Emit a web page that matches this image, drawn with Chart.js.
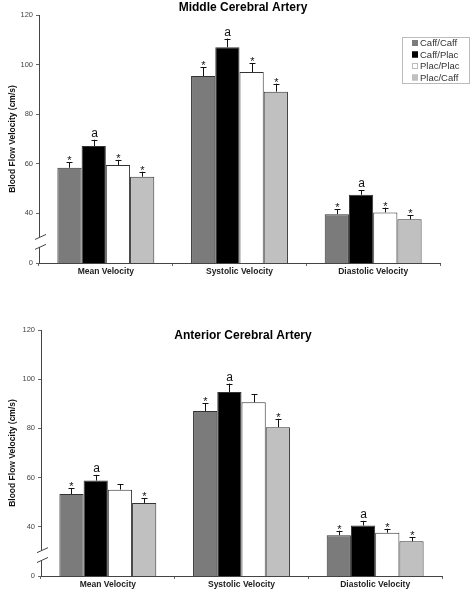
<!DOCTYPE html>
<html>
<head>
<meta charset="utf-8">
<script src="https://cdn.jsdelivr.net/npm/chart.js@4"></script>
<style>
  html, body { margin: 0; padding: 0; background: #fff; }
  .panel { position: absolute; left: 0; width: 474px; }
  #top { top: 0; height: 292px; }
  #bottom { top: 300px; height: 294px; }
</style>
</head>
<body>
<div class="panel" id="top"><canvas id="mca" width="474" height="292"></canvas></div>
<div class="panel" id="bottom"><canvas id="aca" width="474" height="294"></canvas></div>
<script>
const categories = ['Mean Velocity', 'Systolic Velocity', 'Diastolic Velocity'];
const groups = ['Caff/Caff', 'Caff/Plac', 'Plac/Plac', 'Plac/Caff'];
const yTicks = [20, 40, 60, 80, 100, 120]; // 20 is shown as "0" below the break

// Middle cerebral artery
const mcaCaffCaff = [58.4, 95.4, 39.7];
const mcaCaffPlac = [67.2, 107.0, 47.5];
const mcaPlacPlac = [59.5, 97.0, 40.4];
const mcaPlacCaff = [54.8, 89.1, 37.6];
const mcaErrCaffCaff = [2.3, 3.5, 1.9];
const mcaErrCaffPlac = [2.5, 3.5, 1.8];
const mcaErrPlacPlac = [2.1, 3.5, 1.9];
const mcaErrPlacCaff = [2.0, 3.2, 1.6];
const mcaMarks = [['*', '*', '*'], ['a', 'a', 'a'], ['*', '*', '*'], ['*', '*', '*']];

// Anterior cerebral artery
const acaCaffCaff = [53.3, 87.1, 36.6];
const acaCaffPlac = [58.8, 94.8, 40.5];
const acaPlacPlac = [55.1, 90.6, 37.6];
const acaPlacCaff = [49.7, 80.5, 34.1];
const acaErrCaffCaff = [2.3, 3.2, 1.8];
const acaErrCaffPlac = [2.3, 3.4, 1.9];
const acaErrPlacPlac = [2.3, 3.3, 1.6];
const acaErrPlacCaff = [2.0, 3.4, 1.7];
const acaMarks = [['*', '*', '*'], ['a', 'a', 'a'], ['', '', '*'], ['*', '*', '*']];

const fills = ['#7b7b7b', '#000000', '#ffffff', '#c0c0c0'];
const FONT = '"Liberation Sans", Arial, sans-serif';

const overlay = {
  id: 'overlay',
  afterDatasetsDraw(chart, args, opts) {
    const ctx = chart.ctx;
    const y = chart.scales.y;

    // error bars and significance marks
    chart.data.datasets.forEach((ds, i) => {
      const meta = chart.getDatasetMeta(i);
      meta.data.forEach((bar, j) => {
        const top = y.getPixelForValue(ds.data[j]);
        const cap = y.getPixelForValue(ds.data[j] + opts.errors[i][j]);
        const bx = Math.round(bar.x) + 0.5;
        ctx.save();
        ctx.strokeStyle = '#111';
        ctx.lineWidth = 1;
        ctx.beginPath();
        ctx.moveTo(bx, top);
        ctx.lineTo(bx, cap);
        ctx.moveTo(bx - 3, Math.round(cap) + 0.5);
        ctx.lineTo(bx + 3, Math.round(cap) + 0.5);
        ctx.stroke();
        const mark = opts.marks[i][j];
        if (mark) {
          ctx.fillStyle = '#111';
          ctx.textAlign = 'center';
          ctx.textBaseline = 'alphabetic';
          if (mark === 'a') {
            ctx.font = '12px ' + FONT;
            ctx.fillText(mark, bx, cap - 3);
          } else {
            ctx.font = '11px ' + FONT;
            ctx.fillText(mark, bx, cap + 2);
          }
        }
        ctx.restore();
      });
    });
  },
  afterDraw(chart, args, opts) {
    const ctx = chart.ctx;
    const y = chart.scales.y;
    const x0 = chart.chartArea.left;

    // axis break
    const b1 = y.getPixelForValue(30.5);
    const b2 = y.getPixelForValue(26.5);
    ctx.save();
    ctx.fillStyle = '#fff';
    ctx.fillRect(x0 - 2, b1, 4, b2 - b1);
    ctx.strokeStyle = '#444';
    ctx.lineWidth = 1;
    ctx.beginPath();
    [b1, b2].forEach(by => {
      ctx.moveTo(x0 - 4, by + 2.5);
      ctx.lineTo(x0 + 7, by - 2.5);
    });
    ctx.stroke();

    // title
    ctx.fillStyle = '#000';
    ctx.font = 'bold 12px ' + FONT;
    ctx.textAlign = 'center';
    ctx.textBaseline = 'middle';
    ctx.fillText(opts.title, opts.titleX, opts.titleY);

    // legend
    if (opts.legend) {
      const lx = 402, ly = 37, lw = 67, lh = 46;
      ctx.strokeStyle = '#bbb';
      ctx.strokeRect(lx + 0.5, ly + 0.5, lw, lh);
      ctx.font = '9.5px ' + FONT;
      ctx.textAlign = 'left';
      groups.forEach((g, i) => {
        const cy = ly + 6 + i * 11.5;
        ctx.fillStyle = fills[i];
        ctx.fillRect(412, cy - 3, 6, 6);
        ctx.strokeStyle = i === 2 ? '#bbb' : fills[i];
        ctx.strokeRect(412.5, cy - 2.5, 5, 5);
        ctx.fillStyle = '#333';
        ctx.fillText(g, 420, cy + 0.5);
      });
    }
    ctx.restore();
  }
};

function makeChart(canvasId, series, errors, marks, cfg) {
  const datasets = groups.map((g, i) => ({
    label: g,
    data: series[i],
    backgroundColor: fills[i],
    borderColor: '#333',
    borderWidth: 1,
    borderSkipped: 'bottom',
    categoryPercentage: 0.725,
    barPercentage: 1
  }));

  return new Chart(document.getElementById(canvasId), {
    type: 'bar',
    data: { labels: categories, datasets },
    plugins: [overlay],
    options: {
      responsive: false,
      animation: false,
      layout: { padding: { left: 0, top: cfg.top, right: 474 - cfg.right, bottom: 0 } },
      plugins: {
        legend: { display: false },
        tooltip: { enabled: false },
        overlay: {
          errors, marks,
          title: cfg.title, titleX: 243, titleY: cfg.titleY,
          legend: cfg.legend
        }
      },
      scales: {
        x: {
          afterFit: s => { s.height = cfg.xHeight; },
          grid: { display: true, drawOnChartArea: false, offset: true, tickLength: 3, color: '#666' },
          border: { color: '#444', width: 1 },
          ticks: { color: '#222', padding: 1, font: { family: FONT, size: 8.5, weight: 'bold' } }
        },
        y: {
          min: 20,
          max: 120,
          afterFit: s => { s.width = cfg.left; },
          afterBuildTicks: s => { s.ticks = yTicks.map(v => ({ value: v })); },
          grid: { display: true, drawOnChartArea: false, tickLength: 3, color: '#666' },
          border: { color: '#444', width: 1 },
          ticks: {
            color: '#444',
            padding: 3,
            font: { family: FONT, size: 7.5 },
            callback: v => (v === 20 ? '0' : String(v))
          },
          title: {
            display: true,
            text: 'Blood Flow Velocity (cm/s)',
            color: '#111',
            padding: { top: 8, bottom: 0 },
            font: { family: FONT, size: 8.5, weight: 'bold' }
          }
        }
      }
    }
  });
}

makeChart('mca',
  [mcaCaffCaff, mcaCaffPlac, mcaPlacPlac, mcaPlacCaff],
  [mcaErrCaffCaff, mcaErrCaffPlac, mcaErrPlacPlac, mcaErrPlacCaff],
  mcaMarks,
  { title: 'Middle Cerebral Artery', titleY: 8, top: 15, left: 39, right: 440, xHeight: 292 - 263, legend: true });

makeChart('aca',
  [acaCaffCaff, acaCaffPlac, acaPlacPlac, acaPlacCaff],
  [acaErrCaffCaff, acaErrCaffPlac, acaErrPlacPlac, acaErrPlacCaff],
  acaMarks,
  { title: 'Anterior Cerebral Artery', titleY: 36, top: 30, left: 41, right: 442, xHeight: 294 - 276, legend: false });
</script>
</body>
</html>
